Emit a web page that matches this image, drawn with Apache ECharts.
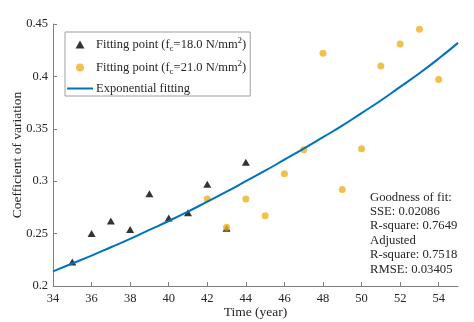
<!DOCTYPE html>
<html>
<head>
<meta charset="utf-8">
<script src="https://cdn.jsdelivr.net/npm/echarts@6/dist/echarts.min.js"></script>
<style>
  html, body { margin: 0; padding: 0; background: #fff; }
  #chart { width: 474px; height: 322px; }
</style>
</head>
<body>
<div id="chart"></div>
<script>
// Coefficient of variation vs. time, two concrete strength groups
var yearsA = [35, 36, 37, 38, 39, 40, 41, 42, 43, 44];
var covA   = [0.223, 0.250, 0.262, 0.254, 0.288, 0.265, 0.270, 0.297, 0.255, 0.318];

var yearsB = [42, 43, 44, 45, 46, 47, 48, 49, 50, 51, 52, 53, 54];
var covB   = [0.283, 0.256, 0.283, 0.267, 0.307, 0.330, 0.422, 0.292, 0.331, 0.410, 0.431, 0.445, 0.397];

// Exponential fitting curve
var fitYears = [34, 35, 36, 37, 38, 39, 40, 41, 42, 43, 44, 45, 46, 47, 48, 49, 50, 51, 52, 53, 54, 55];
var fitCov   = [0.214, 0.2215, 0.229, 0.237, 0.245, 0.2535, 0.262, 0.271, 0.2805, 0.290, 0.300,
                0.310, 0.3205, 0.331, 0.342, 0.353, 0.365, 0.377, 0.390, 0.403, 0.417, 0.432];

var xTicks = [34, 36, 38, 40, 42, 44, 46, 48, 50, 52, 54];
var fitStats = ['Goodness of fit:', 'SSE: 0.02086', 'R-square: 0.7649', 'Adjusted', 'R-square: 0.7518', 'RMSE: 0.03405'];

var SERIF = '"Liberation Serif", "Times New Roman", serif';
var TXT = '#262626';
var AX = '#808080';

function pairs(xs, ys) { return xs.map(function (x, i) { return [x, ys[i]]; }); }

var legendText = {
  'A': 'Fitting point (f{sub|c}=18.0 N/mm{sup|2})',
  'B': 'Fitting point (f{sub|c}=21.0 N/mm{sup|2})',
  'F': 'Exponential fitting'
};

var chart = echarts.init(document.getElementById('chart'), null, { renderer: 'canvas' });
chart.setOption({
  animation: false,
  backgroundColor: '#fff',
  grid: { left: 53, right: 16, top: 24, bottom: 36, outerBoundsMode: 'none', containLabel: false },
  xAxis: {
    type: 'value', min: 34, max: 55,
    name: 'Time (year)', nameLocation: 'middle', nameGap: 19, nameMoveOverlap: false,
    nameTextStyle: { fontFamily: SERIF, fontSize: 13.5, color: TXT },
    axisLine: { show: true, lineStyle: { color: AX, width: 1 } },
    axisTick: { show: true, inside: true, length: 4, lineStyle: { color: AX }, customValues: xTicks },
    axisLabel: { fontFamily: SERIF, fontSize: 12.5, color: TXT, margin: 6, customValues: xTicks },
    splitLine: { show: false }
  },
  yAxis: {
    type: 'value', min: 0.2, max: 0.45, interval: 0.05,
    name: 'Coefficient of variation', nameLocation: 'middle', nameGap: 29, nameMoveOverlap: false,
    nameTextStyle: { fontFamily: SERIF, fontSize: 13.5, color: TXT },
    axisLine: { show: true, lineStyle: { color: AX, width: 1 } },
    axisTick: { show: true, inside: true, length: 4, lineStyle: { color: AX } },
    axisLabel: { fontFamily: SERIF, fontSize: 12.5, color: TXT, margin: 5,
      formatter: function (v) { return String(+v.toFixed(2)); } },
    splitLine: { show: false }
  },
  legend: {
    orient: 'vertical', left: 65, top: 32,
    padding: [4, 4, 1, 2], itemGap: 6,
    itemWidth: 26, itemHeight: 8,
    borderColor: '#a0a0a0', borderWidth: 1,
    backgroundColor: '#fff',
    data: [
      { name: 'A', icon: 'path://M5,0 L10,9 L0,9 Z', itemStyle: { color: '#000' } },
      { name: 'B', icon: 'circle' },
      { name: 'F', icon: 'path://M0,0 L26,0 L26,2 L0,2 Z', itemStyle: { color: '#0072BD' } }
    ],
    formatter: function (n) { return legendText[n]; },
    textStyle: {
      fontFamily: SERIF, fontSize: 12.5, color: TXT, padding: [0, 0, 0, -2],
      rich: {
        sub: { fontFamily: SERIF, fontSize: 9, color: TXT, lineHeight: 10, padding: [8, 0, 0, 0] },
        sup: { fontFamily: SERIF, fontSize: 9, color: TXT, lineHeight: 10, padding: [0, 0, 8, 0] }
      }
    }
  },
  graphic: [{
    type: 'text', left: 370, top: 190,
    style: {
      text: fitStats.join('\n'),
      font: '12.7px ' + SERIF, fill: TXT, lineHeight: 14.4
    }
  }],
  series: [
    {
      name: 'A', type: 'scatter', data: pairs(yearsA, covA),
      symbol: 'triangle', symbolSize: [8, 7],
      itemStyle: { color: '#000' }, z: 2
    },
    {
      name: 'B', type: 'scatter', data: pairs(yearsB, covB),
      symbol: 'circle', symbolSize: 7,
      itemStyle: { color: '#EDB120' }, z: 3
    },
    {
      name: 'F', type: 'line', data: pairs(fitYears, fitCov),
      smooth: true, showSymbol: false, symbol: 'none',
      lineStyle: { color: '#0072BD', width: 2 },
      itemStyle: { color: '#0072BD' }, z: 4
    }
  ]
});
</script>
</body>
</html>
